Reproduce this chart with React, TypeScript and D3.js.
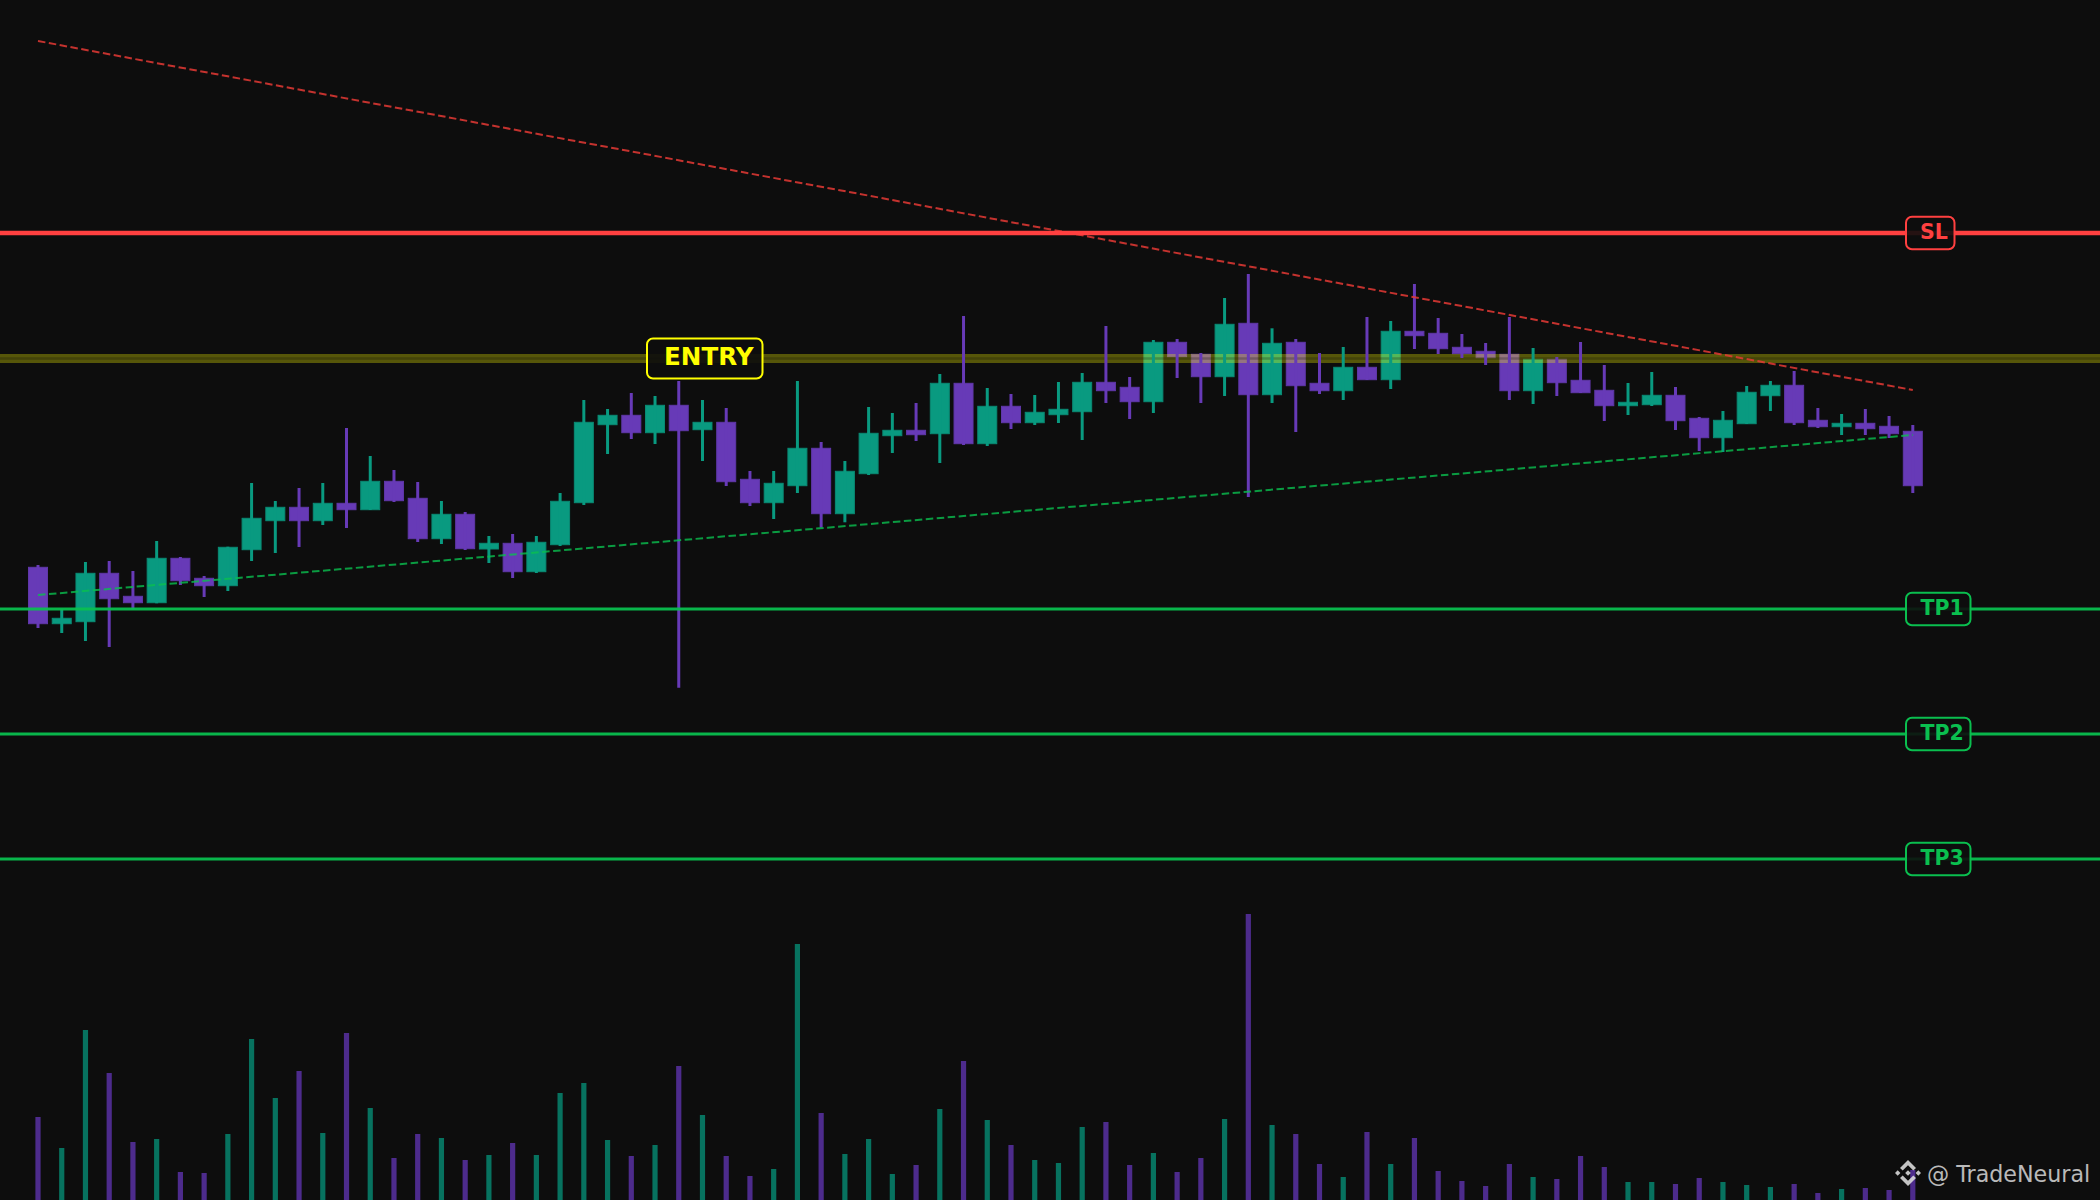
import React from "react";
import * as d3 from "d3";

// price levels, no axis on the chart so the unit is arbitrary
const opens = [
  432.7, 376.3, 378.3, 426.7, 403.7, 397.3, 441.7, 421.7, 414.3, 450.3,
  479.3, 492.7, 479.3, 496.7, 490.3, 518.7, 501.7, 461.3, 485.7, 451,
  456.7, 428.3, 455.3, 497.3, 575.3, 584.7, 567.3, 594.7, 570.3, 577.7,
  520.7, 497.3, 514.3, 551.7, 486.3, 526.3, 564.3, 569.7, 566.3, 616.7,
  556.3, 593.7, 577.3, 585.3, 588.3, 617.7, 612.7, 598.3, 657.7, 645.7,
  623.3, 676.7, 605.3, 657.7, 616.7, 609.3, 632.7, 620.3, 668.7, 666.7,
  652.7, 648.7, 645.7, 609.3, 640.7, 619.7, 609.7, 594.3, 595.3, 604.7,
  581.7, 562.3, 576.3, 604.3, 614.7, 579.7, 573.3, 576.7, 573.7, 568.7,
];
const closes = [
  376.3, 381.7, 426.7, 401.3, 397.3, 441.7, 419.3, 414.3, 452.7, 481.7,
  492.7, 479.3, 496.7, 490.3, 518.7, 499.3, 461.3, 485.7, 451.3, 456.7,
  428.3, 457.7, 498.7, 577.7, 584.7, 567.3, 594.7, 569.3, 577.7, 518.3,
  497.3, 516.7, 551.7, 486.3, 528.7, 566.7, 569.7, 565.3, 616.7, 556.3,
  593.7, 577.3, 587.7, 590.7, 617.7, 609.3, 598.3, 657.7, 643.3, 623.3,
  675.7, 605.3, 656.7, 614.3, 609.3, 632.7, 620.3, 668.7, 664.3, 651.3,
  646.3, 642.3, 609.3, 640.7, 617.3, 607.3, 594.3, 597.7, 604.7, 579.3,
  562.3, 579.7, 607.7, 614.7, 577.3, 573.3, 576.7, 571.3, 566.3, 514.3,
];
const highs = [
  435, 390.7, 438, 439, 429, 459, 443, 424, 453.3, 517,
  499, 512, 517, 572, 544, 530, 518, 499, 488, 464,
  466, 464, 507, 600, 591, 607, 604, 619, 600, 592,
  529, 529, 619, 558, 539, 593, 587, 597, 626, 684,
  612, 606, 605, 618, 627, 674, 623, 660, 661, 647,
  702, 726, 671.7, 661, 647, 653, 683, 679, 716, 682,
  666, 657, 683, 652, 643, 658, 635, 617, 628, 613,
  583, 589, 614, 619, 629, 592, 586, 591, 584, 575,
];
const lows = [
  372, 367, 359, 353, 390.7, 396.7, 415, 403, 409, 439,
  447, 453, 475, 472, 490, 498, 458, 456, 450, 437,
  422, 427, 454, 495, 546, 561, 556, 312.3, 539, 514,
  494, 481, 507, 472.3, 477.7, 525, 547, 559, 537, 555,
  554, 571, 575, 577, 560, 597, 581, 587, 622, 597,
  604, 503, 597, 568, 606, 600, 620, 611, 651, 646,
  642, 635, 600, 596, 604, 607, 579, 585, 594, 570,
  549, 548, 576, 589, 575, 572, 565, 565, 562, 507,
];
const volumes = [
  83, 52, 170, 127, 58, 61, 28, 27, 66, 161,
  102, 129, 67, 167, 92, 42, 66, 62, 40, 45,
  57, 45, 107, 117, 60, 44, 55, 134, 85, 44,
  24, 31, 256, 87, 46, 61, 26, 35, 91, 139,
  80, 55, 40, 37, 73, 78, 35, 47, 28, 42,
  81, 286, 75, 66, 36, 23, 68, 36, 62, 29,
  19, 14, 36, 23, 21, 44, 33, 18, 18, 16,
  22, 18, 15, 13, 16, 7, 11, 12, 10, 30,
];

const resistance = [959, 610];
const support = [405, 565];
const trendIndex = [0, 79];

const entryBand = [646, 637];
const stopLevel = 767;
const targets = ["TP1", "TP2", "TP3"];
const targetLevels = [391, 266, 141];

const GREEN = "#099a80";
const PURPLE = "#673ab7";
const VOL_GREEN = "#07725f";
const VOL_PURPLE = "#4d2b8c";
const RED_LINE = "#ff4040";
const GREEN_LINE = "#0abf4f";
const BG = "#0d0d0d";

const x = d3.scaleLinear().domain([0, 79]).range([38, 1912.8]);
const y = d3.scaleLinear().domain([1000, -200]).range([0, 1200]);
const yVol = d3.scaleLinear().domain([0, 300]).range([1200, 900]);

const trendLine = d3
  .line<number>()
  .x((_, i) => x(trendIndex[i]))
  .y((d) => y(d));

const Label = ({ left, width, mid, height, color, text, size, textX }: any) => (
  <g>
    <rect
      x={left}
      y={mid - height / 2}
      width={width}
      height={height}
      rx={6}
      fill={BG}
      fillOpacity={0.9}
      stroke={color}
      strokeWidth={2}
    />
    <text
      x={textX}
      y={mid + size * 0.27}
      fill={color}
      fontSize={size}
      fontWeight="bold"
      fontFamily="DejaVu Sans"
    >
      {text}
    </text>
  </g>
);

export default function App() {
  const idx = d3.range(opens.length);
  const entryTop = y(entryBand[0]);
  const entryBottom = y(entryBand[1]);
  const entryMid = (entryTop + entryBottom) / 2;

  return (
    <>
      <style>{`body{margin:0;background:${BG}}`}</style>
      <svg width={2100} height={1200} style={{ display: "block" }}>
        <rect width={2100} height={1200} fill={BG} />

        {/* volume */}
        <g>
          {idx.map((i) => (
            <rect
              key={i}
              x={x(i) - 2.6}
              y={yVol(volumes[i])}
              width={5.2}
              height={yVol(0) - yVol(volumes[i])}
              fill={closes[i] >= opens[i] ? VOL_GREEN : VOL_PURPLE}
            />
          ))}
        </g>

        {/* bodies go under the entry band, wicks over it */}
        <g>
          {idx.map((i) => {
            const top = y(Math.max(opens[i], closes[i]));
            const bottom = y(Math.min(opens[i], closes[i]));
            return (
              <rect
                key={i}
                x={x(i) - 9.5}
                y={top}
                width={19}
                height={bottom - top}
                fill={closes[i] >= opens[i] ? GREEN : PURPLE}
                stroke={closes[i] >= opens[i] ? "#0a8a74" : "#5f37a8"}
                strokeWidth={1}
              />
            );
          })}
        </g>

        <rect
          x={0}
          y={entryTop}
          width={2100}
          height={entryBottom - entryTop}
          fill="#ffff00"
          fillOpacity={0.3}
        />
        <line
          x1={0}
          x2={2100}
          y1={entryMid}
          y2={entryMid}
          stroke={BG}
          strokeOpacity={0.25}
          strokeWidth={2.5}
        />

        <g>
          {idx.map((i) => (
            <line
              key={i}
              x1={x(i)}
              x2={x(i)}
              y1={y(highs[i])}
              y2={y(lows[i])}
              stroke={closes[i] >= opens[i] ? GREEN : PURPLE}
              strokeWidth={3}
            />
          ))}
        </g>

        <path
          d={trendLine(resistance) as string}
          fill="none"
          stroke="#e53935"
          strokeOpacity={0.85}
          strokeWidth={2}
          strokeDasharray="7.5 3.5"
        />
        <path
          d={trendLine(support) as string}
          fill="none"
          stroke={GREEN_LINE}
          strokeOpacity={0.8}
          strokeWidth={2}
          strokeDasharray="7.5 3.5"
        />

        <line
          x1={0}
          x2={2100}
          y1={y(stopLevel)}
          y2={y(stopLevel)}
          stroke={RED_LINE}
          strokeWidth={4.5}
        />
        {targetLevels.map((lvl) => (
          <line
            key={lvl}
            x1={0}
            x2={2100}
            y1={y(lvl)}
            y2={y(lvl)}
            stroke={GREEN_LINE}
            strokeOpacity={0.95}
            strokeWidth={3.2}
          />
        ))}

        <Label
          left={647}
          width={115.5}
          mid={entryMid}
          height={40}
          color="#ffff00"
          text="ENTRY"
          size={24.6}
          textX={664}
        />
        <Label
          left={1906}
          width={48.5}
          mid={y(stopLevel)}
          height={32.5}
          color={RED_LINE}
          text="SL"
          size={20.5}
          textX={1920}
        />
        {targets.map((t, i) => (
          <Label
            key={t}
            left={1906}
            width={64.5}
            mid={y(targetLevels[i])}
            height={32.5}
            color={GREEN_LINE}
            text={t}
            size={20.5}
            textX={1920.5}
          />
        ))}

        {/* watermark */}
        <g transform="translate(1908,1173)" fill="#dddddd" fillOpacity={0.88}>
          <path d="M0,-13L8,-5L5.3,-2.4L0,-7.7L-5.3,-2.4L-8,-5Z" />
          <path d="M0,13L8,5L5.3,2.4L0,7.7L-5.3,2.4L-8,5Z" />
          <path d="M0,-2.8L2.8,0L0,2.8L-2.8,0Z" />
          <path d="M-13,0L-10.3,-2.7L-7.6,0L-10.3,2.7Z" />
          <path d="M13,0L10.3,-2.7L7.6,0L10.3,2.7Z" />
        </g>
        <text
          x={1927}
          y={1182}
          fill="#ffffff"
          fillOpacity={0.72}
          fontSize={22.2}
          fontFamily="DejaVu Sans"
        >
          @ TradeNeural
        </text>
      </svg>
    </>
  );
}
